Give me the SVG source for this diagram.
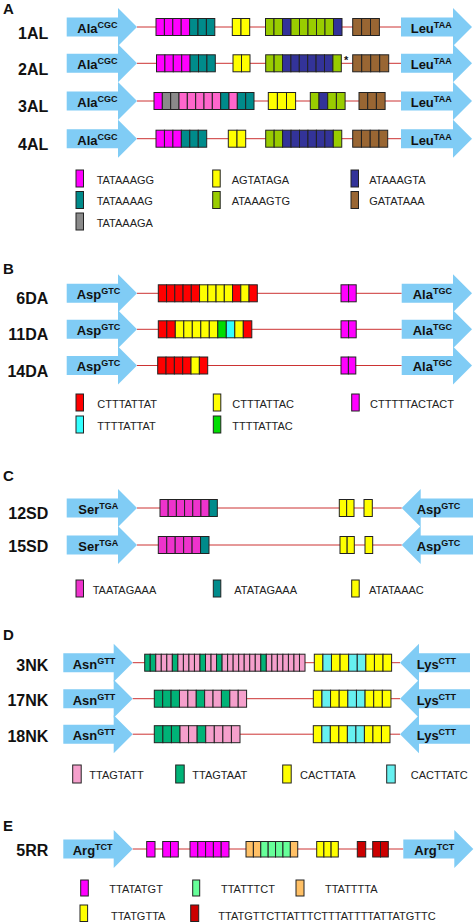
<svg xmlns="http://www.w3.org/2000/svg" width="474" height="924" viewBox="0 0 474 924">
<style>
text{font-family:"Liberation Sans",Arial,sans-serif;fill:#111}
.pl{font-size:15px;font-weight:bold}
.rl{font-size:16px;font-weight:bold;text-anchor:end}
.at{font-size:13px;font-weight:bold}
.sup{font-size:9px}
.lt{font-size:11px;fill:#222}
.arr{fill:#80ccf5}
.ln{stroke:#cc3333;stroke-width:1;fill:none}
rect{stroke:#222;stroke-width:1}
rect.bg{fill:#fff;stroke:none}
.m{fill:#ff00ff}.t{fill:#008b8b}.gr{fill:#8a8a8a}.p{fill:#ff66cc}.y{fill:#ffff00}.g{fill:#99cc00}
.n{fill:#333399}.b{fill:#996633}.r{fill:#ff0000}.cy{fill:#33ffff}.gn{fill:#00dd00}.mc{fill:#ee33cc}
.dp{fill:#f5a0cc}.dg{fill:#00b377}.lc{fill:#66f0f0}.lg{fill:#66ff99}.o{fill:#ffc066}.dr{fill:#cc0000}
</style>
<rect class="bg" width="474" height="924"/>

<!-- connectors / backbone lines -->
<g id="connectors">
<line class="ln" x1="137" y1="27" x2="401" y2="27"/>
<line class="ln" x1="137" y1="63.3" x2="401" y2="63.3"/>
<line class="ln" x1="137" y1="101" x2="401" y2="101"/>
<line class="ln" x1="137" y1="138.7" x2="401" y2="138.7"/>
<line class="ln" x1="137" y1="293.3" x2="401.7" y2="293.3"/>
<line class="ln" x1="137" y1="329.3" x2="401.7" y2="329.3"/>
<line class="ln" x1="137" y1="365.5" x2="401.7" y2="365.5"/>
<line class="ln" x1="137" y1="508" x2="401.7" y2="508"/>
<line class="ln" x1="137" y1="545" x2="401.7" y2="545"/>
<line class="ln" x1="132.7" y1="662.7" x2="400" y2="662.7"/>
<line class="ln" x1="132.7" y1="698.7" x2="400" y2="698.7"/>
<line class="ln" x1="132.7" y1="734.2" x2="400" y2="734.2"/>
<line class="ln" x1="132.7" y1="849" x2="403.3" y2="849"/>
</g>

<!-- Panel A -->
<text class="pl" x="3" y="13.5">A</text>
<g id="row-1AL">
<text class="rl" x="48.3" y="38.5">1AL</text>
<polygon class="arr" points="66.7,17.5 118,17.5 118,8 137,27 118,46 118,36.5 66.7,36.5"/>
<text class="at" x="77.3" y="33">Ala<tspan class="sup" dy="-5">CGC</tspan></text>
<polygon class="arr" points="401,17.5 453,17.5 453,8 472,27 453,46 453,36.5 401,36.5"/>
<text class="at" x="410.7" y="33">Leu<tspan class="sup" dy="-5">TAA</tspan></text>
<g transform="translate(0,18.5)">
<rect class="m" x="156" width="8.4" height="17"/><rect class="m" x="164.4" width="8.4" height="17"/><rect class="m" x="172.8" width="8.4" height="17"/><rect class="m" x="181.2" width="8.4" height="17"/><rect class="t" x="189.6" width="8.4" height="17"/><rect class="t" x="198" width="8.4" height="17"/><rect class="t" x="206.4" width="8.4" height="17"/>
<rect class="y" x="232.3" width="8.7" height="17"/><rect class="y" x="241" width="8.7" height="17"/>
<rect class="g" x="265.5" width="8.5" height="17"/><rect class="g" x="274" width="8.5" height="17"/><rect class="n" x="282.5" width="8.5" height="17"/><rect class="g" x="291" width="8.5" height="17"/><rect class="g" x="299.5" width="8.5" height="17"/><rect class="g" x="308" width="8.5" height="17"/><rect class="g" x="316.5" width="8.5" height="17"/><rect class="g" x="325" width="8.5" height="17"/><rect class="n" x="333.5" width="8.5" height="17"/>
<rect class="b" x="352.7" width="8.9" height="17"/><rect class="b" x="361.6" width="8.9" height="17"/><rect class="b" x="370.5" width="8.9" height="17"/>
</g>
</g>
<g id="row-2AL">
<text class="rl" x="48.3" y="75">2AL</text>
<polygon class="arr" points="66.7,53.8 118,53.8 118,44.3 137,63.3 118,82.3 118,72.8 66.7,72.8"/>
<text class="at" x="77.3" y="69.3">Ala<tspan class="sup" dy="-5">CGC</tspan></text>
<polygon class="arr" points="401,53.8 453,53.8 453,44.3 472,63.3 453,82.3 453,72.8 401,72.8"/>
<text class="at" x="410.7" y="69.3">Leu<tspan class="sup" dy="-5">TAA</tspan></text>
<g transform="translate(0,54.8)">
<rect class="m" x="156.5" width="8.4" height="17"/><rect class="m" x="164.9" width="8.4" height="17"/><rect class="m" x="173.3" width="8.4" height="17"/><rect class="m" x="181.7" width="8.4" height="17"/><rect class="t" x="190.1" width="8.4" height="17"/><rect class="t" x="198.5" width="8.4" height="17"/><rect class="t" x="206.9" width="8.4" height="17"/>
<rect class="y" x="233" width="8.5" height="17"/><rect class="y" x="241.5" width="8.5" height="17"/>
<rect class="g" x="265.7" width="8.4" height="17"/><rect class="g" x="274.1" width="8.4" height="17"/><rect class="n" x="282.5" width="8.4" height="17"/><rect class="n" x="290.9" width="8.4" height="17"/><rect class="n" x="299.3" width="8.4" height="17"/><rect class="n" x="307.7" width="8.4" height="17"/><rect class="n" x="316.1" width="8.4" height="17"/><rect class="n" x="324.5" width="8.4" height="17"/><rect class="g" x="332.9" width="8.4" height="17"/>
<rect class="b" x="352.7" width="9" height="17"/><rect class="b" x="361.7" width="9" height="17"/><rect class="b" x="370.7" width="9" height="17"/><rect class="b" x="379.7" width="9" height="17"/>
</g>
<text x="344" y="64" style="font-size:11px;font-weight:bold">*</text>
</g>
<g id="row-3AL">
<text class="rl" x="48.3" y="111.7">3AL</text>
<polygon class="arr" points="66.7,91.5 118,91.5 118,82 137,101 118,120 118,110.5 66.7,110.5"/>
<text class="at" x="77.3" y="107">Ala<tspan class="sup" dy="-5">CGC</tspan></text>
<polygon class="arr" points="401,91.5 453,91.5 453,82 472,101 453,120 453,110.5 401,110.5"/>
<text class="at" x="410.7" y="107">Leu<tspan class="sup" dy="-5">TAA</tspan></text>
<g transform="translate(0,92.5)">
<rect class="m" x="154" width="8.33" height="17"/><rect class="gr" x="162.33" width="8.33" height="17"/><rect class="gr" x="170.67" width="8.33" height="17"/><rect class="p" x="179" width="8.33" height="17"/><rect class="p" x="187.33" width="8.33" height="17"/><rect class="p" x="195.67" width="8.33" height="17"/><rect class="p" x="204" width="8.33" height="17"/><rect class="p" x="212.33" width="8.33" height="17"/><rect class="t" x="220.67" width="8.33" height="17"/><rect class="p" x="229" width="8.33" height="17"/><rect class="t" x="237.33" width="8.33" height="17"/><rect class="t" x="245.67" width="8.33" height="17"/>
<rect class="y" x="268.3" width="9.1" height="17"/><rect class="y" x="277.4" width="9.1" height="17"/><rect class="y" x="286.5" width="9.1" height="17"/>
<rect class="g" x="310.3" width="8.7" height="17"/><rect class="n" x="319" width="8.7" height="17"/><rect class="g" x="327.7" width="8.7" height="17"/><rect class="g" x="336.4" width="8.7" height="17"/>
<rect class="b" x="359" width="8.7" height="17"/><rect class="b" x="367.7" width="8.7" height="17"/><rect class="b" x="376.4" width="8.7" height="17"/>
</g>
</g>
<g id="row-4AL">
<text class="rl" x="48.3" y="150">4AL</text>
<polygon class="arr" points="66.7,129.2 118,129.2 118,119.7 137,138.7 118,157.7 118,148.2 66.7,148.2"/>
<text class="at" x="77.3" y="144.7">Ala<tspan class="sup" dy="-5">CGC</tspan></text>
<polygon class="arr" points="401,129.2 453,129.2 453,119.7 472,138.7 453,157.7 453,148.2 401,148.2"/>
<text class="at" x="410.7" y="144.7">Leu<tspan class="sup" dy="-5">TAA</tspan></text>
<g transform="translate(0,130.2)">
<rect class="m" x="156" width="8.45" height="17"/><rect class="m" x="164.45" width="8.45" height="17"/><rect class="m" x="172.9" width="8.45" height="17"/><rect class="t" x="181.35" width="8.45" height="17"/><rect class="t" x="189.8" width="8.45" height="17"/><rect class="t" x="198.25" width="8.45" height="17"/>
<rect class="y" x="228.3" width="8.7" height="17"/><rect class="y" x="237" width="8.7" height="17"/>
<rect class="g" x="265.7" width="8.45" height="17"/><rect class="g" x="274.15" width="8.45" height="17"/><rect class="n" x="282.6" width="8.45" height="17"/><rect class="n" x="291.05" width="8.45" height="17"/><rect class="n" x="299.5" width="8.45" height="17"/><rect class="n" x="307.95" width="8.45" height="17"/><rect class="n" x="316.4" width="8.45" height="17"/><rect class="n" x="324.85" width="8.45" height="17"/><rect class="g" x="333.3" width="8.45" height="17"/>
<rect class="b" x="352.7" width="8.75" height="17"/><rect class="b" x="361.45" width="8.75" height="17"/><rect class="b" x="370.2" width="8.75" height="17"/><rect class="b" x="378.95" width="8.75" height="17"/>
</g>
</g>
<g id="legend-A">
<rect class="m" x="76" y="170" width="7.5" height="17"/><text class="lt" x="96.7" y="183.5">TATAAAGG</text>
<rect class="t" x="76" y="191.5" width="7.5" height="17"/><text class="lt" x="96.7" y="205">TATAAAAG</text>
<rect class="gr" x="76" y="213" width="7.5" height="17"/><text class="lt" x="96.7" y="226.5">TATAAAGA</text>
<rect class="y" x="212.7" y="170" width="7.5" height="17"/><text class="lt" x="231.7" y="183.5">AGTATAGA</text>
<rect class="g" x="212.7" y="191.5" width="7.5" height="17"/><text class="lt" x="231.7" y="205">ATAAAGTG</text>
<rect class="n" x="351" y="170" width="7.5" height="17"/><text class="lt" x="369.3" y="183.5">ATAAAGTA</text>
<rect class="b" x="351" y="191.5" width="7.5" height="17"/><text class="lt" x="369.3" y="205">GATATAAA</text>
</g>

<!-- Panel B -->
<text class="pl" x="3" y="273.5">B</text>
<g id="row-6DA">
<text class="rl" x="48.3" y="303.5">6DA</text>
<polygon class="arr" points="66.7,283.8 118,283.8 118,274.3 137,293.3 118,312.3 118,302.8 66.7,302.8"/>
<text class="at" x="76.7" y="299">Asp<tspan class="sup" dy="-5">GTC</tspan></text>
<polygon class="arr" points="401.7,283.8 453,283.8 453,274.3 472,293.3 453,312.3 453,302.8 401.7,302.8"/>
<text class="at" x="412.7" y="299">Ala<tspan class="sup" dy="-5">TGC</tspan></text>
<g transform="translate(0,284.8)">
<rect class="r" x="158.3" width="8.25" height="17"/><rect class="r" x="166.55" width="8.25" height="17"/><rect class="r" x="174.8" width="8.25" height="17"/><rect class="r" x="183.05" width="8.25" height="17"/><rect class="r" x="191.3" width="8.25" height="17"/><rect class="y" x="199.55" width="8.25" height="17"/><rect class="y" x="207.8" width="8.25" height="17"/><rect class="y" x="216.05" width="8.25" height="17"/><rect class="y" x="224.3" width="8.25" height="17"/><rect class="r" x="232.55" width="8.25" height="17"/><rect class="y" x="240.8" width="8.25" height="17"/><rect class="r" x="249.05" width="8.25" height="17"/>
<rect class="m" x="341" width="7.6" height="17"/><rect class="m" x="348.6" width="7.6" height="17"/>
</g>
</g>
<g id="row-11DA">
<text class="rl" x="48.3" y="340">11DA</text>
<polygon class="arr" points="66.7,319.8 118,319.8 118,310.3 137,329.3 118,348.3 118,338.8 66.7,338.8"/>
<text class="at" x="76.7" y="335">Asp<tspan class="sup" dy="-5">GTC</tspan></text>
<polygon class="arr" points="401.7,319.8 453,319.8 453,310.3 472,329.3 453,348.3 453,338.8 401.7,338.8"/>
<text class="at" x="412.7" y="335">Ala<tspan class="sup" dy="-5">TGC</tspan></text>
<g transform="translate(0,320.8)">
<rect class="r" x="158.3" width="8.5" height="17"/><rect class="r" x="166.8" width="8.5" height="17"/><rect class="y" x="175.3" width="8.5" height="17"/><rect class="y" x="183.8" width="8.5" height="17"/><rect class="y" x="192.3" width="8.5" height="17"/><rect class="y" x="200.8" width="8.5" height="17"/><rect class="y" x="209.3" width="8.5" height="17"/><rect class="gn" x="217.8" width="8.5" height="17"/><rect class="cy" x="226.3" width="8.5" height="17"/><rect class="y" x="234.8" width="8.5" height="17"/><rect class="r" x="243.3" width="8.5" height="17"/>
<rect class="m" x="341" width="7.6" height="17"/><rect class="m" x="348.6" width="7.6" height="17"/>
</g>
</g>
<g id="row-14DA">
<text class="rl" x="48.3" y="376.7">14DA</text>
<polygon class="arr" points="66.7,356 118,356 118,346.5 137,365.5 118,384.5 118,375 66.7,375"/>
<text class="at" x="76.7" y="371.2">Asp<tspan class="sup" dy="-5">GTC</tspan></text>
<polygon class="arr" points="401.7,356 453,356 453,346.5 472,365.5 453,384.5 453,375 401.7,375"/>
<text class="at" x="412.7" y="371.2">Ala<tspan class="sup" dy="-5">TGC</tspan></text>
<g transform="translate(0,357)">
<rect class="r" x="157.7" width="8.33" height="17"/><rect class="r" x="166.03" width="8.33" height="17"/><rect class="r" x="174.37" width="8.33" height="17"/><rect class="r" x="182.7" width="8.33" height="17"/><rect class="y" x="191.03" width="8.33" height="17"/><rect class="r" x="199.37" width="8.33" height="17"/>
<rect class="m" x="341" width="7.4" height="17"/><rect class="m" x="348.4" width="7.4" height="17"/>
</g>
</g>
<g id="legend-B">
<rect class="r" x="76" y="394" width="7.5" height="17"/><text class="lt" x="97.3" y="407.5">CTTTATTAT</text>
<rect class="cy" x="76" y="416" width="7.5" height="17"/><text class="lt" x="97.3" y="429.5">TTTTATTAT</text>
<rect class="y" x="213.3" y="394" width="7.5" height="17"/><text class="lt" x="232.3" y="407.5">CTTTATTAC</text>
<rect class="gn" x="213.3" y="416" width="7.5" height="17"/><text class="lt" x="232.3" y="429.5">TTTTATTAC</text>
<rect class="m" x="351.7" y="394" width="7.5" height="17"/><text class="lt" x="370" y="407.5">CTTTTTACTACT</text>
</g>

<!-- Panel C -->
<text class="pl" x="3" y="480.5">C</text>
<g id="row-12SD">
<text class="rl" x="48.3" y="518.5">12SD</text>
<polygon class="arr" points="66.7,498.5 118,498.5 118,489 137,508 118,527 118,517.5 66.7,517.5"/>
<text class="at" x="78.3" y="514">Ser<tspan class="sup" dy="-5">TGA</tspan></text>
<polygon class="arr" points="473,498.5 420.7,498.5 420.7,489 401.7,508 420.7,527 420.7,517.5 473,517.5"/>
<text class="at" x="416.7" y="514">Asp<tspan class="sup" dy="-5">GTC</tspan></text>
<g transform="translate(0,499.5)">
<rect class="mc" x="160" width="8.19" height="17"/><rect class="mc" x="168.19" width="8.19" height="17"/><rect class="mc" x="176.38" width="8.19" height="17"/><rect class="mc" x="184.57" width="8.19" height="17"/><rect class="mc" x="192.76" width="8.19" height="17"/><rect class="mc" x="200.95" width="8.19" height="17"/><rect class="t" x="209.14" width="8.19" height="17"/>
<rect class="y" x="339.3" width="7.35" height="17"/><rect class="y" x="346.65" width="7.35" height="17"/><rect class="y" x="364" width="8.3" height="17"/>
</g>
</g>
<g id="row-15SD">
<text class="rl" x="48.3" y="552">15SD</text>
<polygon class="arr" points="66.7,535.5 118,535.5 118,526 137,545 118,564 118,554.5 66.7,554.5"/>
<text class="at" x="78.3" y="551">Ser<tspan class="sup" dy="-5">TGA</tspan></text>
<polygon class="arr" points="473,535.5 420.7,535.5 420.7,526 401.7,545 420.7,564 420.7,554.5 473,554.5"/>
<text class="at" x="416.7" y="551">Asp<tspan class="sup" dy="-5">GTC</tspan></text>
<g transform="translate(0,536.5)">
<rect class="mc" x="158.3" width="8.45" height="17"/><rect class="mc" x="166.75" width="8.45" height="17"/><rect class="mc" x="175.2" width="8.45" height="17"/><rect class="mc" x="183.65" width="8.45" height="17"/><rect class="mc" x="192.1" width="8.45" height="17"/><rect class="t" x="200.55" width="8.45" height="17"/>
<rect class="y" x="340" width="7.15" height="17"/><rect class="y" x="347.15" width="7.15" height="17"/><rect class="y" x="365" width="7.7" height="17"/>
</g>
</g>
<g id="legend-C">
<rect class="mc" x="76" y="580" width="7.5" height="17"/><text class="lt" x="92.7" y="593.5">TAATAGAAA</text>
<rect class="t" x="213.3" y="580" width="7.5" height="17"/><text class="lt" x="234.3" y="593.5">ATATAGAAA</text>
<rect class="y" x="351.7" y="580" width="7.5" height="17"/><text class="lt" x="369" y="593.5">ATATAAAC</text>
</g>

<!-- Panel D -->
<text class="pl" x="3" y="639.5">D</text>
<g id="row-3NK">
<text class="rl" x="48.3" y="671">3NK</text>
<polygon class="arr" points="63.3,653.2 113.7,653.2 113.7,643.7 132.7,662.7 113.7,681.7 113.7,672.2 63.3,672.2"/>
<text class="at" x="72.7" y="668.5">Asn<tspan class="sup" dy="-5">GTT</tspan></text>
<polygon class="arr" points="470,653.2 419,653.2 419,643.7 400,662.7 419,681.7 419,672.2 470,672.2"/>
<text class="at" x="416.7" y="668.5">Lys<tspan class="sup" dy="-5">CTT</tspan></text>
<g transform="translate(0,654.2)">
<rect class="dg" x="144.7" width="5.53" height="17"/><rect class="dg" x="150.23" width="5.53" height="17"/><rect class="dp" x="155.76" width="5.53" height="17"/><rect class="dp" x="161.28" width="5.53" height="17"/><rect class="dp" x="166.81" width="5.53" height="17"/><rect class="dg" x="172.34" width="5.53" height="17"/><rect class="dp" x="177.87" width="5.53" height="17"/><rect class="dp" x="183.4" width="5.53" height="17"/><rect class="dp" x="188.92" width="5.53" height="17"/><rect class="dp" x="194.45" width="5.53" height="17"/><rect class="dg" x="199.98" width="5.53" height="17"/><rect class="dp" x="205.51" width="5.53" height="17"/><rect class="dp" x="211.04" width="5.53" height="17"/><rect class="dg" x="216.56" width="5.53" height="17"/><rect class="dp" x="222.09" width="5.53" height="17"/><rect class="dp" x="227.62" width="5.53" height="17"/><rect class="dp" x="233.15" width="5.53" height="17"/><rect class="dp" x="238.68" width="5.53" height="17"/><rect class="dp" x="244.2" width="5.53" height="17"/><rect class="dp" x="249.73" width="5.53" height="17"/><rect class="dp" x="255.26" width="5.53" height="17"/><rect class="dg" x="260.79" width="5.53" height="17"/><rect class="dp" x="266.32" width="5.53" height="17"/><rect class="dp" x="271.84" width="5.53" height="17"/><rect class="dp" x="277.37" width="5.53" height="17"/><rect class="dp" x="282.9" width="5.53" height="17"/><rect class="dp" x="288.43" width="5.53" height="17"/><rect class="dp" x="293.96" width="5.53" height="17"/><rect class="dp" x="299.48" width="5.53" height="17"/>
<rect class="y" x="314.3" width="8.59" height="17"/><rect class="lc" x="322.89" width="8.59" height="17"/><rect class="y" x="331.48" width="8.59" height="17"/><rect class="y" x="340.07" width="8.59" height="17"/><rect class="lc" x="348.66" width="8.59" height="17"/><rect class="lc" x="357.25" width="8.59" height="17"/><rect class="y" x="365.84" width="8.59" height="17"/><rect class="y" x="374.43" width="8.59" height="17"/><rect class="y" x="383.02" width="8.59" height="17"/>
</g>
</g>
<g id="row-17NK">
<text class="rl" x="48.3" y="706">17NK</text>
<polygon class="arr" points="63.3,689.2 113.7,689.2 113.7,679.7 132.7,698.7 113.7,717.7 113.7,708.2 63.3,708.2"/>
<text class="at" x="72.7" y="704.5">Asn<tspan class="sup" dy="-5">GTT</tspan></text>
<polygon class="arr" points="470,689.2 419,689.2 419,679.7 400,698.7 419,717.7 419,708.2 470,708.2"/>
<text class="at" x="416.7" y="704.5">Lys<tspan class="sup" dy="-5">CTT</tspan></text>
<g transform="translate(0,690.2)">
<rect class="dg" x="154.3" width="8.39" height="17"/><rect class="dg" x="162.69" width="8.39" height="17"/><rect class="dg" x="171.08" width="8.39" height="17"/><rect class="dp" x="179.47" width="8.39" height="17"/><rect class="dp" x="187.86" width="8.39" height="17"/><rect class="dg" x="196.25" width="8.39" height="17"/><rect class="dp" x="204.64" width="8.39" height="17"/><rect class="dp" x="213.03" width="8.39" height="17"/><rect class="dg" x="221.42" width="8.39" height="17"/><rect class="dp" x="229.81" width="8.39" height="17"/><rect class="dp" x="238.2" width="8.39" height="17"/>
<rect class="y" x="313.3" width="8.63" height="17"/><rect class="lc" x="321.93" width="8.63" height="17"/><rect class="y" x="330.56" width="8.63" height="17"/><rect class="y" x="339.19" width="8.63" height="17"/><rect class="lc" x="347.82" width="8.63" height="17"/><rect class="lc" x="356.45" width="8.63" height="17"/><rect class="y" x="365.08" width="8.63" height="17"/><rect class="y" x="373.71" width="8.63" height="17"/><rect class="y" x="382.34" width="8.63" height="17"/>
</g>
</g>
<g id="row-18NK">
<text class="rl" x="48.3" y="741.7">18NK</text>
<polygon class="arr" points="63.3,724.7 113.7,724.7 113.7,715.2 132.7,734.2 113.7,753.2 113.7,743.7 63.3,743.7"/>
<text class="at" x="72.7" y="740">Asn<tspan class="sup" dy="-5">GTT</tspan></text>
<polygon class="arr" points="470,724.7 419,724.7 419,715.2 400,734.2 419,753.2 419,743.7 470,743.7"/>
<text class="at" x="416.7" y="740">Lys<tspan class="sup" dy="-5">CTT</tspan></text>
<g transform="translate(0,725.7)">
<rect class="dg" x="154.3" width="8.57" height="17"/><rect class="dg" x="162.87" width="8.57" height="17"/><rect class="dg" x="171.44" width="8.57" height="17"/><rect class="dp" x="180.01" width="8.57" height="17"/><rect class="dp" x="188.58" width="8.57" height="17"/><rect class="dg" x="197.15" width="8.57" height="17"/><rect class="dp" x="205.72" width="8.57" height="17"/><rect class="dp" x="214.29" width="8.57" height="17"/><rect class="dp" x="222.86" width="8.57" height="17"/><rect class="dp" x="231.43" width="8.57" height="17"/>
<rect class="y" x="313.3" width="8.52" height="17"/><rect class="lc" x="321.82" width="8.52" height="17"/><rect class="y" x="330.34" width="8.52" height="17"/><rect class="y" x="338.86" width="8.52" height="17"/><rect class="lc" x="347.38" width="8.52" height="17"/><rect class="lc" x="355.9" width="8.52" height="17"/><rect class="y" x="364.42" width="8.52" height="17"/><rect class="y" x="372.94" width="8.52" height="17"/><rect class="y" x="381.46" width="8.52" height="17"/>
</g>
</g>
<g id="legend-D">
<rect class="dp" x="72.7" y="765" width="8.5" height="18"/><text class="lt" x="89.3" y="778.5">TTAGTATT</text>
<rect class="dg" x="175.7" y="765" width="8.5" height="18"/><text class="lt" x="192.3" y="778.5">TTAGTAAT</text>
<rect class="y" x="282.7" y="765" width="8.5" height="18"/><text class="lt" x="300" y="778.5">CACTTATA</text>
<rect class="lc" x="386.7" y="765" width="8.5" height="18"/><text class="lt" x="410.7" y="778.5">CACTTATC</text>
</g>

<!-- Panel E -->
<text class="pl" x="3" y="830.5">E</text>
<g id="row-5RR">
<text class="rl" x="48.3" y="855.5">5RR</text>
<polygon class="arr" points="63.3,839.5 113.7,839.5 113.7,830 132.7,849 113.7,868 113.7,858.5 63.3,858.5"/>
<text class="at" x="72.7" y="854.5">Arg<tspan class="sup" dy="-5">TCT</tspan></text>
<polygon class="arr" points="403.3,839.5 454.3,839.5 454.3,830 473.3,849 454.3,868 454.3,858.5 403.3,858.5"/>
<text class="at" x="414.3" y="854.5">Arg<tspan class="sup" dy="-5">TCT</tspan></text>
<g transform="translate(0,841.5)">
<rect class="m" x="146.7" width="8.3" height="15.5"/>
<rect class="m" x="162.7" width="7.8" height="15.5"/><rect class="m" x="170.5" width="7.8" height="15.5"/>
<rect class="m" x="190" width="7.8" height="15.5"/><rect class="m" x="197.8" width="7.8" height="15.5"/><rect class="m" x="205.6" width="7.8" height="15.5"/><rect class="m" x="213.4" width="7.8" height="15.5"/><rect class="m" x="221.2" width="7.8" height="15.5"/>
<rect class="o" x="246" width="7.39" height="15.5"/><rect class="o" x="253.39" width="7.39" height="15.5"/><rect class="lg" x="260.78" width="7.39" height="15.5"/><rect class="lg" x="268.17" width="7.39" height="15.5"/><rect class="lg" x="275.56" width="7.39" height="15.5"/><rect class="lg" x="282.95" width="7.39" height="15.5"/><rect class="o" x="290.34" width="7.39" height="15.5"/>
<rect class="y" x="316.7" width="7.2" height="15.5"/><rect class="y" x="323.9" width="7.2" height="15.5"/><rect class="y" x="331.1" width="7.2" height="15.5"/>
<rect class="dr" x="357.3" width="8.4" height="15.5"/>
<rect class="dr" x="372.7" width="7.8" height="15.5"/><rect class="dr" x="380.5" width="7.8" height="15.5"/>
</g>
</g>
<g id="legend-E">
<rect class="m" x="80.7" y="880" width="7.6" height="16"/><text class="lt" x="109.3" y="893">TTATATGT</text>
<rect class="lg" x="192.7" y="880" width="7" height="16"/><text class="lt" x="221" y="893">TTATTTCT</text>
<rect class="o" x="296" y="880" width="8" height="16"/><text class="lt" x="325" y="893">TTATTTTA</text>
<rect class="y" x="80" y="905" width="7.6" height="16.5"/><text class="lt" x="111" y="920">TTATGTTA</text>
<rect class="dr" x="190.7" y="905" width="8" height="16.5"/><text class="lt" x="218.3" y="920">TTATGTTCTTATTTCTTTATTTTATTATGTTC</text>
</g>
</svg>
